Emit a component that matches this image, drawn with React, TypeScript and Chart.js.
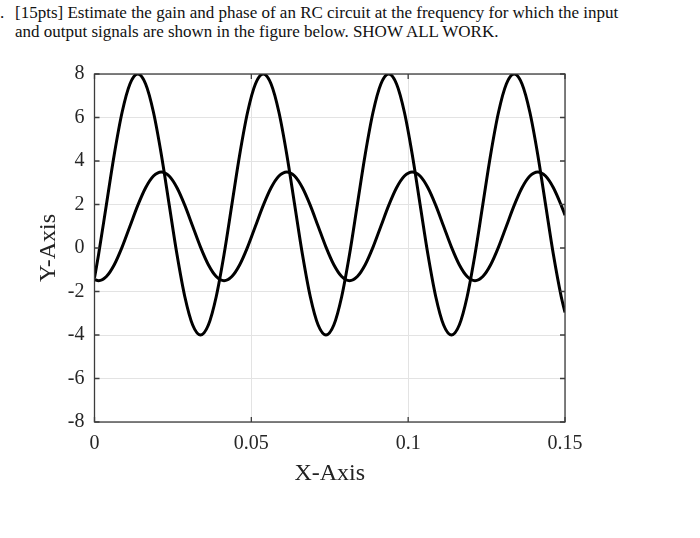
import React, { useEffect, useRef } from 'react';
import { Chart, ChartConfiguration, Plugin, registerables } from 'chart.js';

Chart.register(...registerables);

// Time samples (s)
const timeValues = [
  0, 0.0013, 0.0038, 0.0063, 0.0088, 0.0113, 0.0138, 0.0163, 0.0188, 0.0213, 0.0238,
  0.0263, 0.0288, 0.0313, 0.0338, 0.0363, 0.0388, 0.0413, 0.0438, 0.0463, 0.0488,
  0.0513, 0.0538, 0.0563, 0.0588, 0.0613, 0.0638, 0.0663, 0.0688, 0.0713, 0.0738,
  0.0763, 0.0788, 0.0813, 0.0838, 0.0863, 0.0888, 0.0913, 0.0938, 0.0963, 0.0988,
  0.1013, 0.1038, 0.1063, 0.1088, 0.1113, 0.1138, 0.1163, 0.1188, 0.1213, 0.1238,
  0.1263, 0.1288, 0.1313, 0.1338, 0.1363, 0.1388, 0.1413, 0.1438, 0.1463, 0.1488, 0.15,
];

// Large signal (peaks at 8, troughs at -4)
const inputSignal = [
  -1.37, -0.3, 2, 4.3, 6.24, 7.54,
  8, 7.54, 6.24, 4.3, 2, -0.3, -2.24, -3.54, -4, -3.54, -2.24, -0.3, 2, 4.3, 6.24, 7.54,
  8, 7.54, 6.24, 4.3, 2, -0.3, -2.24, -3.54, -4, -3.54, -2.24, -0.3, 2, 4.3, 6.24, 7.54,
  8, 7.54, 6.24, 4.3, 2, -0.3, -2.24, -3.54, -4, -3.54, -2.24, -0.3, 2, 4.3, 6.24, 7.54,
  8, 7.54, 6.24, 4.3, 2, -0.3, -2.24, -2.96,
];

// Small signal (peaks at 3.5, troughs at -1.5)
const outputSignal = [
  -1.45, -1.5, -1.31, -0.77, 0.04, 1, 1.96, 2.77, 3.31,
  3.5, 3.31, 2.77, 1.96, 1, 0.04, -0.77, -1.31, -1.5, -1.31, -0.77, 0.04, 1, 1.96, 2.77, 3.31,
  3.5, 3.31, 2.77, 1.96, 1, 0.04, -0.77, -1.31, -1.5, -1.31, -0.77, 0.04, 1, 1.96, 2.77, 3.31,
  3.5, 3.31, 2.77, 1.96, 1, 0.04, -0.77, -1.31, -1.5, -1.31, -0.77, 0.04, 1, 1.96, 2.77, 3.31,
  3.5, 3.31, 2.77, 1.96, 1.51,
];

const xTicks = [0, 0.05, 0.1, 0.15];
const yTicks = [-8, -6, -4, -2, 0, 2, 4, 6, 8];

const SERIF = "'Liberation Serif', 'Times New Roman', serif";

// Axes box with inward tick marks on all four sides
const framePlugin: Plugin<'line'> = {
  id: 'frame',
  afterDraw(chart) {
    const { ctx, chartArea, scales } = chart;
    const { left, right, top, bottom } = chartArea;
    const tick = 5;
    ctx.save();
    ctx.strokeStyle = '#3c3c3c';
    ctx.lineWidth = 1.3;
    ctx.strokeRect(left, top, right - left, bottom - top);
    ctx.beginPath();
    xTicks.forEach(v => {
      const px = scales.x.getPixelForValue(v);
      ctx.moveTo(px, bottom);
      ctx.lineTo(px, bottom - tick);
      ctx.moveTo(px, top);
      ctx.lineTo(px, top + tick);
    });
    yTicks.forEach(v => {
      const py = scales.y.getPixelForValue(v);
      ctx.moveTo(left, py);
      ctx.lineTo(left + tick, py);
      ctx.moveTo(right, py);
      ctx.lineTo(right - tick, py);
    });
    ctx.stroke();
    ctx.restore();
  },
};

function SignalChart() {
  const canvasRef = useRef<HTMLCanvasElement>(null);

  useEffect(() => {
    if (!canvasRef.current) return;

    const lineStyle = {
      borderColor: '#000',
      borderWidth: 3,
      pointRadius: 0,
      fill: false,
      cubicInterpolationMode: 'monotone' as const,
    };

    const config: ChartConfiguration<'line'> = {
      type: 'line',
      data: {
        datasets: [
          { label: 'input', data: timeValues.map((t, i) => ({ x: t, y: inputSignal[i] })), ...lineStyle },
          { label: 'output', data: timeValues.map((t, i) => ({ x: t, y: outputSignal[i] })), ...lineStyle },
        ],
      },
      options: {
        responsive: false,
        animation: false,
        layout: { padding: { left: 0, top: 74, right: 135, bottom: 0 } },
        plugins: {
          legend: { display: false },
          tooltip: { enabled: false },
        },
        scales: {
          x: {
            type: 'linear',
            min: 0,
            max: 0.15,
            afterBuildTicks: scale => {
              scale.ticks = xTicks.map(value => ({ value }));
            },
            afterFit: scale => {
              scale.height = 116;
            },
            grid: { color: '#e3e3e3', lineWidth: 1, drawTicks: false },
            border: { display: false },
            ticks: {
              padding: 10,
              color: '#262626',
              font: { family: SERIF, size: 20 },
              maxRotation: 0,
              callback: value => String(value),
            },
            title: {
              display: true,
              text: 'X-Axis',
              color: '#222',
              font: { family: SERIF, size: 24 },
              padding: { top: 0, bottom: 50 },
            },
          },
          y: {
            type: 'linear',
            min: -8,
            max: 8,
            afterBuildTicks: scale => {
              scale.ticks = yTicks.map(value => ({ value }));
            },
            afterFit: scale => {
              scale.width = 94.5;
            },
            grid: { color: '#e3e3e3', lineWidth: 1, drawTicks: false },
            border: { display: false },
            ticks: {
              padding: 10,
              color: '#262626',
              font: { family: SERIF, size: 20 },
              callback: value => String(value),
            },
            title: {
              display: true,
              text: 'Y-Axis',
              color: '#222',
              font: { family: SERIF, size: 24 },
              padding: { top: 34, bottom: 0 },
            },
          },
        },
      },
      plugins: [framePlugin],
    };

    const chart = new Chart(canvasRef.current, config);
    return () => chart.destroy();
  }, []);

  return <canvas ref={canvasRef} width={700} height={538} style={{ display: 'block' }} />;
}

export default function App() {
  return (
    <div style={{ position: 'absolute', left: 0, top: 0, width: 700, height: 538, background: '#fff' }}>
      <div
        style={{
          position: 'absolute',
          left: 0,
          top: 3,
          fontFamily: SERIF,
          fontSize: 17,
          lineHeight: '19px',
          color: '#111',
          whiteSpace: 'nowrap',
        }}
      >
        <div>
          <span style={{ display: 'inline-block', width: 15 }}>.</span>
          [15pts] Estimate the gain and phase of an RC circuit at the frequency for which the input
        </div>
        <div style={{ paddingLeft: 15 }}>
          and output signals are shown in the figure below. SHOW ALL WORK.
        </div>
      </div>
      <div style={{ position: 'absolute', left: 0, top: 0 }}>
        <SignalChart />
      </div>
    </div>
  );
}
